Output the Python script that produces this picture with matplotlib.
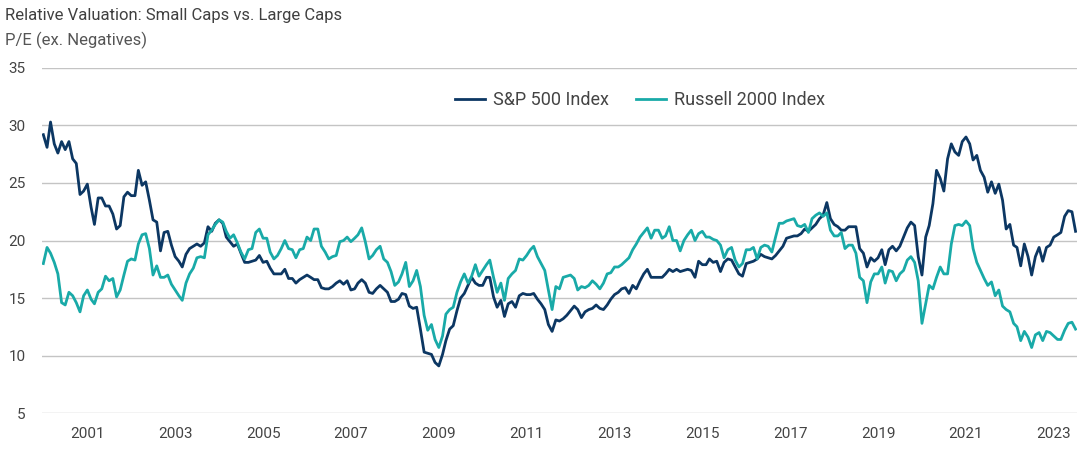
import numpy as np
import pandas as pd
import matplotlib
matplotlib.use("Agg")
import matplotlib.pyplot as plt

# monthly P/E readings, Jan 2000 - Jul 2023
sp500 = [
    29.2, 28.1, 30.3, 28.4, 27.6, 28.6, 27.9, 28.6, 27.1, 26.7,
    24.0, 24.3, 24.9, 22.9, 21.4, 23.7, 23.7, 23.0, 23.0, 22.3,
    21.0, 21.3, 23.8, 24.2, 23.9, 23.9, 26.1, 24.8, 25.1, 23.5,
    21.8, 21.6, 19.1, 20.7, 20.8, 19.6, 18.6, 18.2, 17.7, 18.8,
    19.3, 19.5, 19.7, 19.5, 19.8, 21.2, 20.8, 21.5, 21.8, 21.5,
    20.3, 19.9, 19.5, 19.7, 18.9, 18.1, 18.1, 18.2, 18.3, 18.7,
    18.1, 18.2, 17.6, 17.1, 17.1, 17.1, 17.5, 16.7, 16.7, 16.3,
    16.6, 16.8, 17.0, 16.8, 16.6, 16.6, 15.9, 15.8, 15.8, 16.0,
    16.3, 16.5, 16.2, 16.5, 15.7, 15.8, 16.3, 16.6, 16.3, 15.5,
    15.4, 15.8, 16.1, 15.8, 15.5, 14.7, 14.7, 14.9, 15.4, 15.3,
    14.3, 14.1, 14.2, 12.3, 10.3, 10.2, 10.1, 9.4, 9.1, 10.1,
    11.3, 12.3, 12.6, 13.9, 15.0, 15.4, 16.1, 16.8, 16.3, 16.1,
    16.1, 16.8, 16.8, 15.1, 14.2, 14.8, 13.4, 14.5, 14.7, 14.2,
    15.2, 15.4, 15.3, 15.3, 15.4, 14.9, 14.5, 14.0, 12.7, 12.1,
    13.1, 13.0, 13.2, 13.5, 13.9, 14.3, 14.0, 13.3, 13.8, 14.0,
    14.1, 14.4, 14.1, 14.0, 14.4, 14.9, 15.3, 15.5, 15.8, 15.9,
    15.4, 16.1, 15.8, 16.5, 17.1, 17.5, 16.8, 16.8, 16.8, 16.8,
    17.1, 17.5, 17.3, 17.5, 17.3, 17.4, 17.5, 17.4, 16.8, 18.2,
    17.9, 17.9, 18.4, 18.1, 18.2, 17.3, 18.1, 18.4, 18.3, 17.7,
    17.1, 16.9, 18.0, 18.1, 18.2, 18.4, 18.8, 18.6, 18.5, 18.4,
    18.7, 19.1, 19.5, 20.2, 20.3, 20.4, 20.4, 20.6, 21.0, 20.8,
    21.1, 21.4, 21.9, 22.2, 23.3, 21.9, 21.4, 21.2, 20.9, 20.9,
    21.2, 21.2, 21.2, 19.3, 18.9, 17.7, 18.5, 18.2, 18.5, 19.2,
    17.9, 19.2, 19.5, 19.1, 19.5, 20.3, 21.1, 21.6, 21.3, 18.6,
    17.0, 20.3, 21.3, 23.2, 26.1, 25.4, 24.3, 27.1, 28.4, 27.7,
    27.4, 28.6, 29.0, 28.4, 27.0, 27.4, 26.1, 25.5, 24.2, 25.1,
    24.1, 24.9, 23.5, 21.0, 21.4, 19.6, 19.4, 17.8, 19.7, 18.6,
    17.0, 18.6, 19.4, 18.2, 19.4, 19.6, 20.3, 20.5, 20.7, 22.1,
    22.6, 22.5, 20.8,
]
russell2000 = [
    18.0, 19.4, 18.9, 18.1, 17.1, 14.6, 14.4, 15.5, 15.2, 14.6,
    13.8, 15.2, 15.7, 14.9, 14.5, 15.5, 15.8, 16.9, 16.5, 16.7,
    15.1, 15.7, 17.0, 18.2, 18.4, 18.3, 19.7, 20.5, 20.6, 19.3,
    17.0, 17.8, 16.8, 16.8, 17.0, 16.2, 15.7, 15.2, 14.8, 16.3,
    17.1, 17.6, 18.5, 18.6, 18.5, 20.5, 20.9, 21.4, 21.8, 21.6,
    20.8, 20.2, 20.5, 19.8, 19.0, 18.4, 19.2, 19.3, 20.7, 21.0,
    20.2, 20.2, 19.0, 18.4, 18.7, 19.3, 20.0, 19.3, 19.2, 18.5,
    19.2, 19.3, 20.3, 20.0, 21.0, 21.0, 19.5, 19.0, 18.4, 18.6,
    18.7, 19.9, 20.0, 20.3, 19.9, 20.2, 20.5, 21.1, 19.9, 18.4,
    18.7, 19.2, 19.5, 18.4, 18.1, 17.3, 16.1, 16.4, 17.1, 18.1,
    16.0, 16.5, 17.4, 16.0, 13.5, 12.2, 12.7, 11.4, 10.7, 11.7,
    13.6, 14.0, 14.2, 15.5, 16.4, 17.1, 16.3, 16.9, 17.9, 16.9,
    17.4, 17.9, 18.3, 16.8, 15.5, 16.3, 14.8, 16.7, 17.1, 17.4,
    18.4, 18.3, 18.7, 19.2, 19.5, 18.6, 18.0, 17.4, 15.7, 14.0,
    16.0, 15.8, 16.8, 16.9, 17.0, 16.7, 15.7, 16.0, 15.9, 16.1,
    16.5, 16.2, 15.8, 16.3, 17.1, 17.2, 17.7, 17.7, 17.9, 18.2,
    18.5, 19.2, 19.7, 20.3, 20.7, 21.1, 20.2, 20.9, 20.9, 20.2,
    20.4, 21.2, 20.0, 20.0, 19.1, 20.0, 20.5, 20.9, 20.0, 20.6,
    20.8, 20.3, 20.3, 20.1, 20.0, 19.6, 18.5, 19.2, 19.4, 18.3,
    17.7, 18.0, 19.2, 19.2, 19.4, 18.4, 19.4, 19.6, 19.5, 19.0,
    20.3, 21.5, 21.5, 21.7, 21.8, 21.9, 21.3, 21.2, 21.4, 20.7,
    21.9, 22.2, 22.4, 22.1, 22.4, 20.9, 20.4, 20.4, 20.7, 19.3,
    19.6, 19.6, 18.9, 16.8, 16.5, 14.6, 16.4, 17.1, 17.1, 17.7,
    16.3, 17.4, 17.3, 16.5, 17.1, 17.4, 18.3, 18.6, 18.1, 16.5,
    12.8, 14.5, 16.1, 15.8, 16.8, 17.7, 17.1, 17.1, 19.7, 21.3,
    21.4, 21.3, 21.7, 21.3, 19.3, 18.1, 17.4, 16.7, 16.1, 16.4,
    15.2, 15.7, 14.3, 14.0, 13.8, 12.8, 12.5, 11.3, 12.1, 11.6,
    10.7, 11.8, 12.0, 11.3, 12.1, 12.0, 11.7, 11.4, 11.4, 12.2,
    12.8, 12.9, 12.3,
]
dates = pd.date_range("2000-01-01", periods=len(sp500), freq="MS")
tick_years = list(range(2001, 2024, 2))
y_ticks = [5, 10, 15, 20, 25, 30, 35]

plt.rcParams['font.family'] = ['Roboto', 'DejaVu Sans']

fig = plt.figure(figsize=(10.8, 4.5), dpi=100)
ax = fig.add_axes([0.039, 0.082, 0.958, 0.767])

navy = '#0c3763'
teal = '#19aaa8'
ax.plot(dates, sp500, color=navy, lw=2.0, label='S&P 500 Index')
ax.plot(dates, russell2000, color=teal, lw=2.0, label='Russell 2000 Index')

ax.set_ylim(5, 35)
ax.set_yticks(y_ticks)
ax.set_xlim(dates[0] - pd.Timedelta(days=10), dates[-1] + pd.Timedelta(days=10))
ax.set_xticks([pd.Timestamp(f"{y}-01-01") for y in tick_years])
ax.set_xticklabels([str(y) for y in tick_years])
ax.grid(axis='y', color='#c4c4c4', lw=1.0)
ax.set_axisbelow(True)
for s in ax.spines.values():
    s.set_visible(False)
ax.tick_params(length=0, labelsize=11, labelcolor='#444444')
ax.tick_params(axis='y', pad=12)
ax.tick_params(axis='x', pad=10)

ax.legend(loc='upper center', bbox_to_anchor=(0.578, 0.98), ncol=2, frameon=False,
          fontsize=13, labelcolor='#444444', handlelength=1.65, handletextpad=0.45,
          columnspacing=1.5)

fig.text(0.005, 0.965, 'Relative Valuation: Small Caps vs. Large Caps', fontsize=12,
         color='#404040', va='center')
fig.text(0.005, 0.91, 'P/E (ex. Negatives)', fontsize=12, color='#555555', va='center')

fig.savefig('out.png', dpi=100)
